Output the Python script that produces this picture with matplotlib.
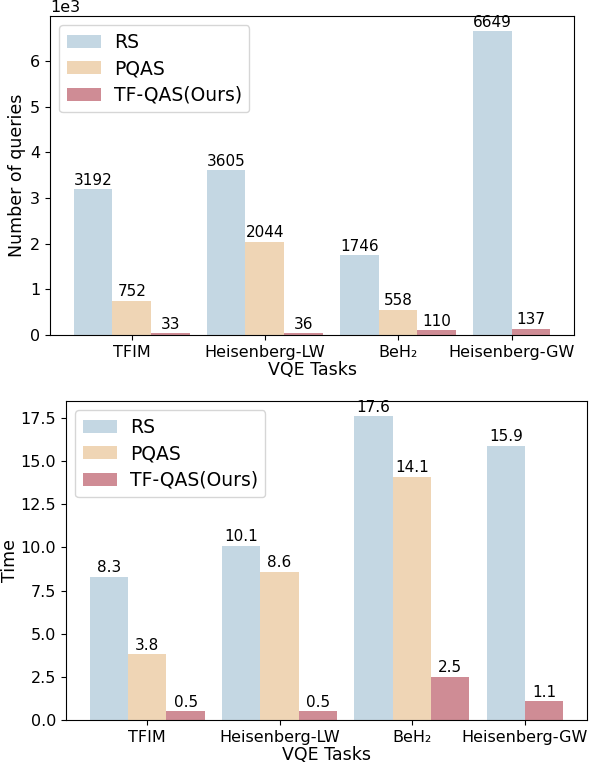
import numpy as np
import matplotlib
matplotlib.use("Agg")
import matplotlib.pyplot as plt

tasks = ["TFIM", "Heisenberg-LW", "BeH\u2082", "Heisenberg-GW"]
methods = ["RS", "PQAS", "TF-QAS(Ours)"]
queries_rs = [3192, 3605, 1746, 6649]
queries_pqas = [752, 2044, 558, np.nan]
queries_tf = [33, 36, 110, 137]
time_rs = [8.3, 10.1, 17.6, 15.9]
time_pqas = [3.8, 8.6, 14.1, np.nan]
time_tf = [0.5, 0.5, 2.5, 1.1]

colors = ["#c4d7e3", "#efd5b5", "#cf8c95"]
W = 0.29
centers = [0, 1, 2, 2.855]

fig = plt.figure(figsize=(5.92, 7.65), dpi=100)
ax1 = fig.add_axes([50/592, (765-335)/765, 524/592, 319/765])
ax2 = fig.add_axes([66/592, (765-720)/765, 521/592, 319/765])


def draw(ax, series, fmt):
    n_present = []
    for j in range(len(tasks)):
        n_present.append([i for i, s in enumerate(series) if not np.isnan(s[j])])
    for i, (name, s) in enumerate(zip(methods, series)):
        xs, hs = [], []
        for j in range(len(tasks)):
            pres = n_present[j]
            if i not in pres:
                continue
            k = pres.index(i)
            xs.append(centers[j] + (k - (len(pres) - 1) / 2) * W)
            hs.append(s[j])
        bars = ax.bar(xs, hs, width=W, color=colors[i], label=name)
        ax.bar_label(bars, labels=[fmt(h) for h in hs], padding=1, fontsize=11)
    ax.set_xticks(centers)
    ax.set_xticklabels(tasks)
    ax.tick_params(axis="both", labelsize=11.5)
    ax.set_xlabel("VQE Tasks", fontsize=12.5, labelpad=1)
    ax.legend(loc="upper left", fontsize=13.5, handlelength=1.8,
              labelspacing=0.4, handletextpad=0.7)


draw(ax1, [queries_rs, queries_pqas, queries_tf], lambda v: f"{int(v)}")
ax1.set_ylabel("Number of queries", fontsize=12.5, labelpad=3)
ax1.ticklabel_format(axis="y", style="sci", scilimits=(0, 0))
ax1.yaxis.get_offset_text().set_fontsize(11.5)

draw(ax2, [time_rs, time_pqas, time_tf], lambda v: f"{v:.1f}")
ax2.set_ylabel("Time", fontsize=12.5, labelpad=1)

fig.savefig("out.png", dpi=100)
